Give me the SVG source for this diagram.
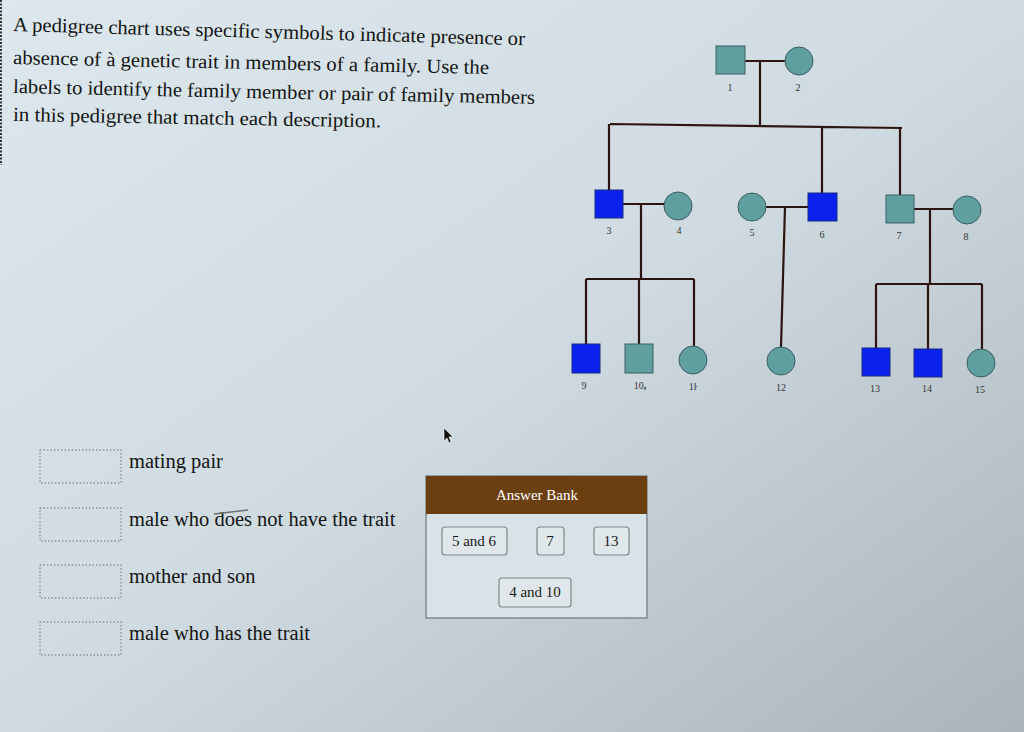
<svg xmlns="http://www.w3.org/2000/svg" width="1024" height="732" viewBox="0 0 1024 732">
<defs>
<linearGradient id="bg" x1="0" y1="0" x2="1" y2="1">
<stop offset="0" stop-color="#dce8ed"/>
<stop offset="0.5" stop-color="#cfdbe0"/>
<stop offset="1" stop-color="#a9b5bb"/>
</linearGradient>
<style>
.t{font-family:"Liberation Serif","Times New Roman",serif;fill:#141414}
.q{font-size:20px}
.d{font-size:20.5px}
.lbl{font-family:"Liberation Serif","Times New Roman",serif;font-size:10px;fill:#333;text-anchor:middle}
.ln{stroke:#2e1410;stroke-width:2.2;fill:none}
.aff{fill:#0b22ee;stroke:#1a2a80;stroke-width:1}
.un{fill:#5f9fa0;stroke:#3d5e63;stroke-width:1}
.drop{fill:none;stroke:#8a9498;stroke-width:1.4;stroke-dasharray:1.5 2}
.btn{fill:#dfe7ea;stroke:#7d878b;stroke-width:1.2}
.bt{font-family:"Liberation Serif","Times New Roman",serif;font-size:15px;fill:#1a1a1a;text-anchor:middle}
</style>
</defs>
<rect width="1024" height="732" fill="url(#bg)"/>
<line x1="1" y1="0" x2="1" y2="165" stroke="#333" stroke-width="2" stroke-dasharray="2 1.5"/>

<g id="question">
<text class="t q" x="13" y="31" transform="rotate(1.6 13 31)" textLength="512" lengthAdjust="spacingAndGlyphs">A pedigree chart uses specific symbols to indicate presence or</text>
<text class="t q" x="13" y="64" transform="rotate(1.2 13 64)" textLength="476" lengthAdjust="spacingAndGlyphs">absence of à genetic trait in members of a family. Use the</text>
<text class="t q" x="13" y="93" transform="rotate(1.2 13 93)" textLength="522" lengthAdjust="spacingAndGlyphs">labels to identify the family member or pair of family members</text>
<text class="t q" x="13" y="121" transform="rotate(1.0 13 121)" textLength="368" lengthAdjust="spacingAndGlyphs">in this pedigree that match each description.</text>
</g>

<g id="connectors">
<path class="ln" d="M745 61 H785 M760 61 V125 M610 124 L902 128 M609 124 V190 M822 126 V193 M900 128 V195"/>
<path class="ln" d="M623 204 H664 M641 204 V279 M586 279 H694 M586 279 V344 M639 279 V344 M694 279 V346"/>
<path class="ln" d="M766 207 H808 M785 207 L781 347"/>
<path class="ln" d="M914 209 H953 M930 209 V284 M876 284 H982 M876 284 V348 M928 284 V349 M982 284 V349"/>
</g>

<g id="p1"><rect class="un" x="716" y="46" width="29" height="28"/><text class="lbl" x="730" y="91">1</text></g>
<g id="p2"><circle class="un" cx="799" cy="61" r="14"/><text class="lbl" x="798" y="91">2</text></g>
<g id="p3"><rect class="aff" x="595" y="190" width="28" height="28"/><text class="lbl" x="609" y="234">3</text></g>
<g id="p4"><circle class="un" cx="678" cy="206" r="14"/><text class="lbl" x="679" y="234">4</text></g>
<g id="p5"><circle class="un" cx="752" cy="207" r="14"/><text class="lbl" x="752" y="236">5</text></g>
<g id="p6"><rect class="aff" x="808" y="193" width="29" height="28"/><text class="lbl" x="822" y="238">6</text></g>
<g id="p7"><rect class="un" x="886" y="195" width="28" height="28"/><text class="lbl" x="899" y="239">7</text></g>
<g id="p8"><circle class="un" cx="967" cy="210" r="14"/><text class="lbl" x="966" y="240">8</text></g>
<g id="p9"><rect class="aff" x="572" y="344" width="28" height="29"/><text class="lbl" x="584" y="389">9</text></g>
<g id="p10"><rect class="un" x="625" y="344" width="28" height="29"/><text class="lbl" x="640" y="389">10<tspan font-weight="bold">,</tspan></text></g>
<g id="p11"><circle class="un" cx="693" cy="360" r="14"/><text class="lbl" x="693" y="390">1ŀ</text></g>
<g id="p12"><circle class="un" cx="781" cy="361" r="14"/><text class="lbl" x="781" y="391">12</text></g>
<g id="p13"><rect class="aff" x="862" y="348" width="28" height="28"/><text class="lbl" x="875" y="392">13</text></g>
<g id="p14"><rect class="aff" x="914" y="349" width="28" height="28"/><text class="lbl" x="927" y="392">14</text></g>
<g id="p15"><circle class="un" cx="981" cy="363" r="14"/><text class="lbl" x="980" y="393">15</text></g>

<g id="descriptions">
<rect class="drop" x="40" y="450" width="81" height="33"/>
<text class="t d" x="129" y="468">mating pair</text>
<rect class="drop" x="40" y="508" width="81" height="33"/>
<text class="t d" x="129" y="526">male who does not have the trait</text>
<line x1="214" y1="514" x2="248" y2="510" stroke="#6f6f6f" stroke-width="1.6"/>
<rect class="drop" x="40" y="565" width="81" height="33"/>
<text class="t d" x="129" y="583">mother and son</text>
<rect class="drop" x="40" y="622" width="81" height="33"/>
<text class="t d" x="129" y="640">male who has the trait</text>
</g>

<g id="cursor">
<path d="M444 428 L444 441 L447 438 L449 443 L451 442 L449 437 L453 437 Z" fill="#111" stroke="#fff" stroke-width="0.6"/>
</g>

<g id="answer-bank">
<rect x="426" y="476" width="221" height="142" fill="#d8e3e7" stroke="#7b8589" stroke-width="1.4"/>
<rect x="426" y="476" width="221" height="38" fill="#6c3f11"/>
<text class="bt" x="537" y="500" style="fill:#fff">Answer Bank</text>
<rect class="btn" x="442" y="527" width="65" height="28" rx="3"/>
<text class="bt" x="474" y="546">5 and 6</text>
<rect class="btn" x="537" y="527" width="27" height="28" rx="3"/>
<text class="bt" x="550" y="546">7</text>
<rect class="btn" x="594" y="527" width="35" height="28" rx="3"/>
<text class="bt" x="611" y="546">13</text>
<rect class="btn" x="499" y="578" width="72" height="29" rx="3"/>
<text class="bt" x="535" y="597">4 and 10</text>
</g>
</svg>
